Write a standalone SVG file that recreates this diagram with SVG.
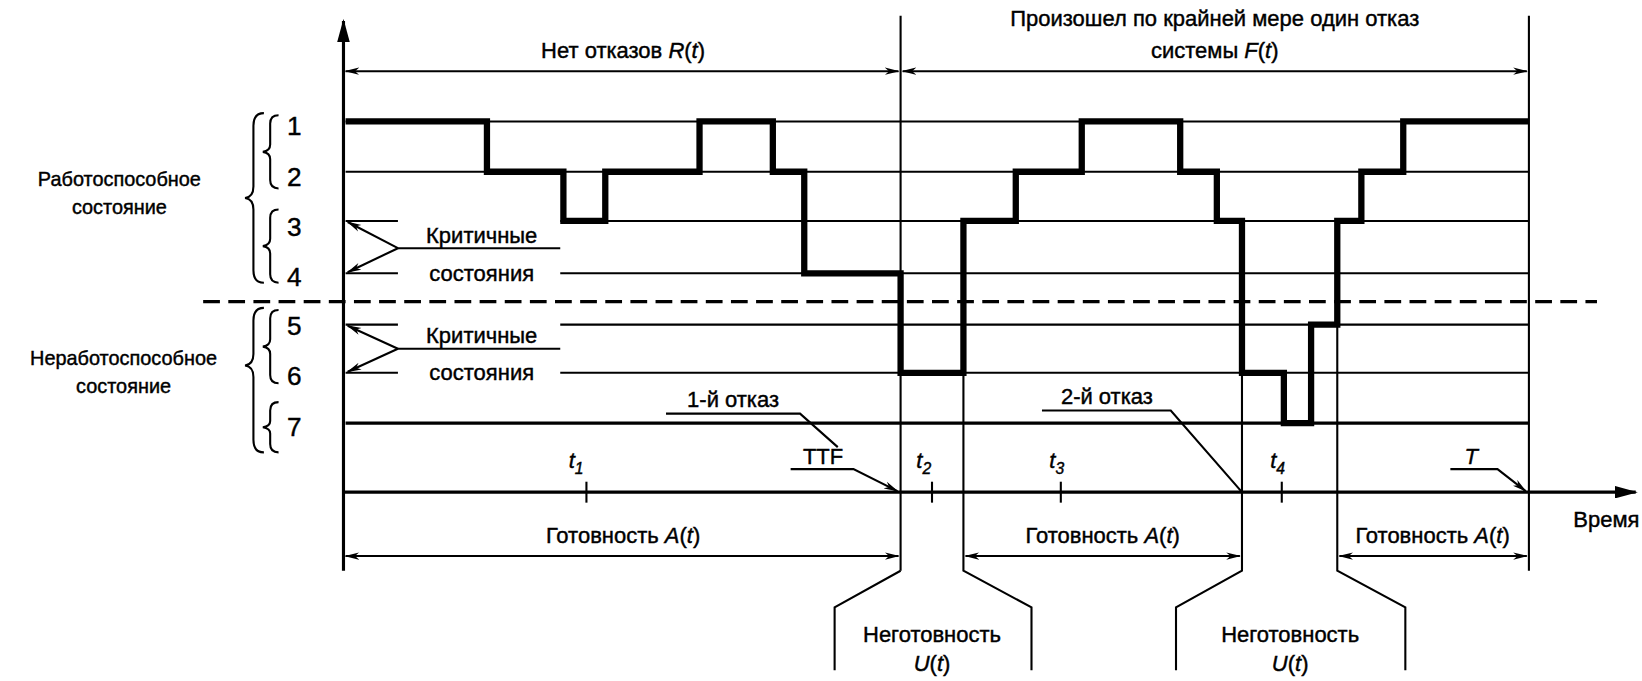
<svg xmlns="http://www.w3.org/2000/svg" width="1642" height="681" viewBox="0 0 1642 681">
<defs>
<marker id="ah" markerWidth="14" markerHeight="8" refX="13" refY="4" orient="auto-start-reverse" markerUnits="userSpaceOnUse"><path d="M0,0.5 L14,4 L0,7.5 L4,4 Z" fill="#000"/></marker>
<marker id="big" markerWidth="22" markerHeight="12" refX="20" refY="6" orient="auto" markerUnits="userSpaceOnUse"><path d="M0,0 L22,6 L0,12 Z" fill="#000"/></marker>
</defs>
<style>
text{font-family:"Liberation Sans",Arial,sans-serif;fill:#000;stroke:#000;stroke-width:0.4}
.t{font-size:21px}
.n{font-size:25px}
.s{font-size:19px}
.i{font-style:italic}
.thin{stroke:#000;stroke-width:2;fill:none}
.med{stroke:#000;stroke-width:3;fill:none}
.wave{stroke:#000;stroke-width:6;fill:none;stroke-linejoin:miter}
</style>
<rect width="1642" height="681" fill="#fff"/>
<g transform="scale(1.0472)">
<g id="connectors">
<line class="med" x1="328" y1="545" x2="328" y2="20" marker-end="url(#big)"/>
<line class="med" x1="328" y1="470" x2="1562" y2="470" marker-end="url(#big)"/>
<line class="thin" x1="860" y1="15" x2="860" y2="545"/>
<line class="thin" x1="1460" y1="15" x2="1460" y2="545"/>
<line class="thin" x1="330" y1="68" x2="858" y2="68" marker-start="url(#ah)" marker-end="url(#ah)"/>
<line class="thin" x1="862" y1="68" x2="1458" y2="68" marker-start="url(#ah)" marker-end="url(#ah)"/>
<line class="thin" x1="330" y1="116" x2="1460" y2="116"/>
<line class="thin" x1="330" y1="164" x2="1460" y2="164"/>
<line class="thin" x1="330" y1="211" x2="380" y2="211"/>
<line class="thin" x1="535" y1="211" x2="1460" y2="211"/>
<line class="thin" x1="330" y1="261" x2="380" y2="261"/>
<line class="thin" x1="535" y1="261" x2="1460" y2="261"/>
<line class="thin" x1="380" y1="237" x2="535" y2="237"/>
<line class="thin" x1="380" y1="237" x2="332" y2="212" marker-end="url(#ah)"/>
<line class="thin" x1="380" y1="237" x2="332" y2="260" marker-end="url(#ah)"/>
<line stroke="#000" stroke-width="3" stroke-dasharray="16,8" x1="194" y1="288" x2="1525" y2="288"/>
<line class="thin" x1="330" y1="310" x2="380" y2="310"/>
<line class="thin" x1="535" y1="310" x2="1460" y2="310"/>
<line class="thin" x1="330" y1="356" x2="380" y2="356"/>
<line class="thin" x1="535" y1="356" x2="1460" y2="356"/>
<line class="thin" x1="380" y1="333" x2="535" y2="333"/>
<line class="thin" x1="380" y1="333" x2="332" y2="311" marker-end="url(#ah)"/>
<line class="thin" x1="380" y1="333" x2="332" y2="355" marker-end="url(#ah)"/>
<line class="med" x1="330" y1="404" x2="1460" y2="404"/>
<path class="wave" d="M330,116 H465 V164 H538 V211 H578 V164 H668 V116 H738 V164 H768 V261 H860 V356 H920 V211 H970 V164 H1033 V116 H1127 V164 H1162 V211 H1186 V356 H1226 V404 H1252 V310 H1277 V211 H1300 V164 H1340 V116 H1460"/>
<line class="thin" x1="560" y1="460" x2="560" y2="480"/>
<line class="thin" x1="890" y1="460" x2="890" y2="480"/>
<line class="thin" x1="1013" y1="460" x2="1013" y2="480"/>
<line class="thin" x1="1224" y1="460" x2="1224" y2="480"/>
<polyline class="thin" points="636,395 764,395 800,427"/>
<polyline class="thin" points="755,448 815,448 857,469" marker-end="url(#ah)"/>
<polyline class="thin" points="995,392 1118,392 1186,470"/>
<polyline class="thin" points="1385,448 1430,448 1457,469" marker-end="url(#ah)"/>
<line class="thin" x1="330" y1="531" x2="858" y2="531" marker-start="url(#ah)" marker-end="url(#ah)"/>
<line class="thin" x1="922" y1="531" x2="1184" y2="531" marker-start="url(#ah)" marker-end="url(#ah)"/>
<line class="thin" x1="1279" y1="531" x2="1458" y2="531" marker-start="url(#ah)" marker-end="url(#ah)"/>
<polyline class="thin" points="860,545 797,580 797,640"/>
<polyline class="thin" points="920,356 920,545 985,580 985,640"/>
<polyline class="thin" points="1186,356 1186,545 1123,580 1123,640"/>
<polyline class="thin" points="1277,310 1277,545 1342,580 1342,640"/>
<path class="thin" d="M252,108 Q242,108 242,120 V178 Q242,188 234,189 Q242,190 242,200 V258 Q242,270 252,270"/>
<path class="thin" d="M266,110 Q258,110 258,118 V138 Q258,144 251,145 Q258,146 258,152 V172 Q258,180 266,180"/>
<path class="thin" d="M266,200 Q258,200 258,208 V228 Q258,234 251,235 Q258,236 258,242 V262 Q258,270 266,270"/>
<path class="thin" d="M252,294 Q242,294 242,306 V338 Q242,348 234,349 Q242,350 242,360 V420 Q242,432 252,432"/>
<path class="thin" d="M266,296 Q258,296 258,304 V324 Q258,330 251,331 Q258,332 258,338 V358 Q258,366 266,366"/>
<path class="thin" d="M266,384 Q258,384 258,392 V402 Q258,407 251,408 Q258,409 258,414 V424 Q258,432 266,432"/>
</g>
<g id="labels">
<text class="t" x="595" y="55" text-anchor="middle">Нет отказов <tspan class="i">R</tspan>(<tspan class="i">t</tspan>)</text>
<text class="t" x="1160" y="25" text-anchor="middle">Произошел по крайней мере один отказ</text>
<text class="t" x="1160" y="55" text-anchor="middle">системы <tspan class="i">F</tspan>(<tspan class="i">t</tspan>)</text>
<text class="s" x="114" y="178" text-anchor="middle">Работоспособное</text>
<text class="s" x="114" y="204" text-anchor="middle">состояние</text>
<text class="s" x="118" y="349" text-anchor="middle">Неработоспособное</text>
<text class="s" x="118" y="375" text-anchor="middle">состояние</text>
<text class="n" x="274" y="129">1</text>
<text class="n" x="274" y="178">2</text>
<text class="n" x="274" y="225">3</text>
<text class="n" x="274" y="273">4</text>
<text class="n" x="274" y="320">5</text>
<text class="n" x="274" y="368">6</text>
<text class="n" x="274" y="416">7</text>
<text class="t" x="460" y="232" text-anchor="middle">Критичные</text>
<text class="t" x="460" y="268" text-anchor="middle">состояния</text>
<text class="t" x="460" y="328" text-anchor="middle">Критичные</text>
<text class="t" x="460" y="363" text-anchor="middle">состояния</text>
<text class="t" x="700" y="389" text-anchor="middle">1-й отказ</text>
<text class="t" x="1057" y="386" text-anchor="middle">2-й отказ</text>
<text class="t" x="786" y="443" text-anchor="middle">TTF</text>
<text class="t i" x="1405" y="443" text-anchor="middle">T</text>
<text class="t i" x="543" y="447">t<tspan font-size="15" dy="6">1</tspan></text>
<text class="t i" x="875" y="447">t<tspan font-size="15" dy="6">2</tspan></text>
<text class="t i" x="1002" y="447">t<tspan font-size="15" dy="6">3</tspan></text>
<text class="t i" x="1213" y="447">t<tspan font-size="15" dy="6">4</tspan></text>
<text class="t" x="1534" y="503" text-anchor="middle">Время</text>
<text class="t" x="595" y="519" text-anchor="middle">Готовность <tspan class="i">A</tspan>(<tspan class="i">t</tspan>)</text>
<text class="t" x="1053" y="519" text-anchor="middle">Готовность <tspan class="i">A</tspan>(<tspan class="i">t</tspan>)</text>
<text class="t" x="1368" y="519" text-anchor="middle">Готовность <tspan class="i">A</tspan>(<tspan class="i">t</tspan>)</text>
<text class="t" x="890" y="613" text-anchor="middle">Неготовность</text>
<text class="t" x="890" y="641" text-anchor="middle"><tspan class="i">U</tspan>(<tspan class="i">t</tspan>)</text>
<text class="t" x="1232" y="613" text-anchor="middle">Неготовность</text>
<text class="t" x="1232" y="641" text-anchor="middle"><tspan class="i">U</tspan>(<tspan class="i">t</tspan>)</text>
</g>
</g>
</svg>
